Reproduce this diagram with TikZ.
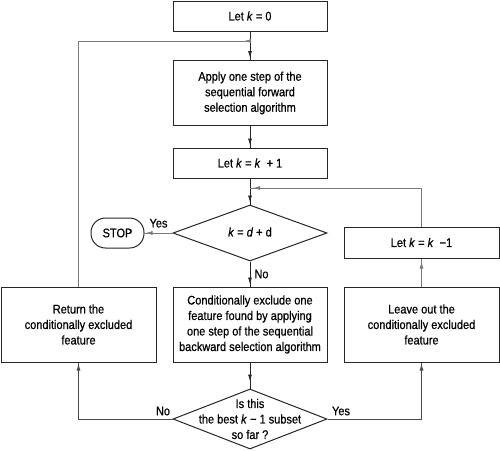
\documentclass[tikz,border=0pt]{standalone}
\usepackage{fontspec}
\setmainfont{Liberation Sans}[FakeStretch=0.88,FakeBold=0.6]
\usetikzlibrary{shapes.geometric,arrows.meta,decorations.markings}
\definecolor{boxline}{HTML}{262626}
\definecolor{loopline}{HTML}{7A7A7A}
\definecolor{sideline}{HTML}{4A4A4A}
\begin{document}
\begin{tikzpicture}[x=1pt,y=-1pt,
  font=\fontsize{12.5}{15.5}\selectfont,
  box/.style={draw=boxline, line width=1pt, minimum width=154pt, align=center, inner sep=0pt},
  dia/.style={draw=boxline, line width=1pt, diamond, minimum width=154pt, inner sep=0pt},
  tipstyle/.tip={Latex[length=7pt,width=4pt]},
  flow/.style={draw=boxline, line width=0.85pt, postaction={decorate},
    decoration={markings, mark=at position -2pt with {\arrow{tipstyle}}}},
  loopflow/.style={draw=loopline, line width=0.85pt, postaction={decorate},
    decoration={markings, mark=at position -#1 with {\arrow{tipstyle}}}},
  revflow/.style={draw=loopline, line width=0.85pt, postaction={decorate},
    decoration={markings, mark=at position -6pt with {\arrowreversed{tipstyle}}}},
  lbl/.style={inner sep=0pt}
]
\useasboundingbox (0,0) rectangle (500,450);

\node[box, minimum height=30pt] (k0) at (250,16) {Let \textit{k} = 0};
\node[box, minimum height=65pt] (sfs) at (250,93) {Apply one step of the\\sequential forward\\selection algorithm};
\node[box, minimum height=30pt] (kp1) at (250,163) {Let \textit{k} = \textit{k}\ \ + 1};
\node[dia, minimum height=56pt] (d1) at (250,233) {};
\node[lbl] (d1t) at (250,232) {\textit{k} = \textit{d} + d};
\node[draw=boxline, line width=1pt, rounded corners=14.5pt, minimum width=53pt, minimum height=30pt, inner sep=0pt] (stop) at (117.5,233) {STOP};
\node[box, minimum width=155pt, minimum height=31pt] (km1) at (421.5,242.5) {Let \textit{k} = \textit{k}\ \ −1};
\node[box, minimum width=155pt, minimum height=75pt] (ret) at (78.5,324.5) {Return the\\conditionally excluded\\feature};
\node[box, minimum height=75pt] (exc) at (250,324.5) {Conditionally exclude one\\feature found by applying\\one step of the sequential\\backward selection algorithm};
\node[box, minimum width=155pt, minimum height=75pt] (leave) at (421.5,324.5) {Leave out the\\conditionally excluded\\feature};
\node[dia, minimum height=60pt] (d2) at (250,419) {};
\node[lbl, align=center] (d2t) at (250,419) {Is this\\the best \textit{k} − 1 subset\\so far ?};

\coordinate (j1) at (250,41);
\coordinate (j2) at (250,188);

\path[flow] (k0) -- (sfs);
\path[flow] (sfs) -- (kp1);
\path[flow] (kp1) -- (d1);
\path[flow] (d1) -- (exc) node[lbl, pos=0.5, right=4pt] (no1) {No};
\path[loopflow=1pt] (d1.west) -- (stop.east) node[lbl, pos=0.5, above=5pt] (yes1) {Yes};
\path[draw=boxline, line width=0.85pt, postaction={decorate}, decoration={markings, mark=at position -7pt with {\arrow{tipstyle}}}] (exc) -- (d2.north);
\path[draw=sideline, line width=0.85pt, postaction={decorate}, decoration={markings, mark=at position -1pt with {\arrow{tipstyle}}}] (d2.west) -| (ret.south);
\path[draw=sideline, line width=0.85pt, postaction={decorate}, decoration={markings, mark=at position -1pt with {\arrow{tipstyle}}}] (d2.east) -| (leave.south);
\node[lbl] (no2) at (163,411) {No};
\node[lbl] (yes2) at (341,411) {Yes};
\path[loopflow=3pt] (leave.north) -- (km1.south);
\path[loopflow=3pt] (km1.north) |- (j2);
\path[revflow] (ret.north) |- (j1);
\end{tikzpicture}
\end{document}
